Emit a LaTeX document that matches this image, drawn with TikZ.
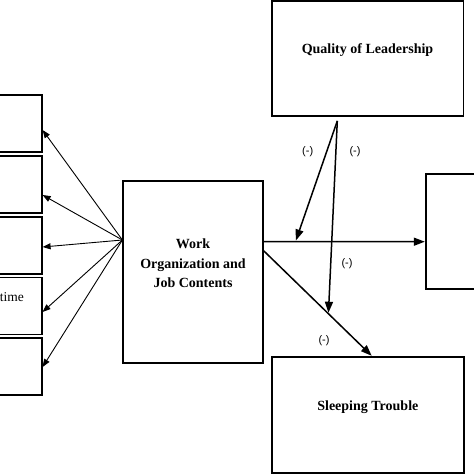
\documentclass[tikz,border=0pt]{standalone}
\usepackage{fontspec}
\setmainfont{Liberation Serif}
\newfontfamily\lsans{Liberation Sans}
\usetikzlibrary{arrows.meta,calc}
\begin{document}
\begin{tikzpicture}[x=1pt,y=-1pt,
  box/.style={draw,line width=1.8pt,inner sep=0pt},
  lbox/.style={box,minimum width=101.7pt,minimum height=57pt},
  btext/.style={font=\fontsize{14}{19.3}\selectfont\bfseries,align=center,inner sep=0pt},
  thin/.style={line width=0.9pt,-{Triangle[length=8pt,width=6pt]}},
  thick/.style={line width=1.5pt,-{Triangle[length=11pt,width=8pt]}},
  neg/.style={font=\lsans\fontsize{11}{13}\selectfont,inner sep=0pt}]
\useasboundingbox (0,0) rectangle (474,474);
\clip (0,0) rectangle (474,474);
% left boxes
\node[lbox] (b1) at (-9.15,123.5) {};
\node[lbox] (b2) at (-9.15,184.5) {};
\node[lbox] (b3) at (-9.15,245.5) {};
\node[lbox] (b4) at (-9.15,306) {};
\node[lbox] (b5) at (-9.15,366.5) {};
\node[anchor=east,inner sep=0pt,font=\fontsize{13.5}{16}\selectfont] (t4) at (24,297.3) {time};
% middle box
\node[box,minimum width=139.4pt,minimum height=182.3pt] (m) at (193,271.85) {};
\node[btext] (mt) at (193,263.4) {Work\\Organization and\\Job Contents};
% right boxes
\node[box,minimum width=191.8pt,minimum height=115pt] (q) at (367.6,58.5) {};
\node[btext] (qt) at (367.5,50) {Quality of Leadership};
\node[box,minimum width=104.3pt,minimum height=115pt] (r) at (477.85,231.5) {};
\node[box,minimum width=192.3pt,minimum height=116.6pt] (s) at (367.85,415) {};
\node[btext] (st) at (367.85,406.7) {Sleeping Trouble};
% left arrows
\coordinate (o) at ($(m.west)+(0,-31.85)$);
\draw[thin] (o) -- ($(b1.east)+(0,6.5)$);
\draw[thin] (o) -- ($(b2.east)+(0,10.5)$);
\draw[thin] (o) -- ($(b3.east)+(0,1.5)$);
\draw[thin] (o) -- ($(b4.east)+(0,6)$);
\draw[thin] (o) -- ($(b5.east)+(0,0.5)$);
% right arrows
\coordinate (h1) at ($(m.east)+(0,-30.15)$);
\coordinate (d1) at ($(m.east)+(0,-21.15)$);
\coordinate (d2) at ($(s.north)+(3.85,0)$);
\draw[thick] (h1) -- ($(r.west)+(0,10.2)$);
\draw[thick] (d1) -- (d2);
\coordinate (qs) at ($(q.south)+(-30.3,4)$);
\coordinate (e1) at ($(h1)+(32.3,-1.2)$);
\coordinate (e2) at ($(d1)!0.6!(d2)+(0,-1)$);
\draw[thick] (qs) -- (e1);
\draw[thick] (qs) -- (e2);
\node[neg] (n1) at (307.7,152) {(-)};
\node[neg] (n2) at (355,152) {(-)};
\node[neg] (n3) at (347,264) {(-)};
\node[neg] (n4) at (324,341) {(-)};
\end{tikzpicture}
\end{document}
